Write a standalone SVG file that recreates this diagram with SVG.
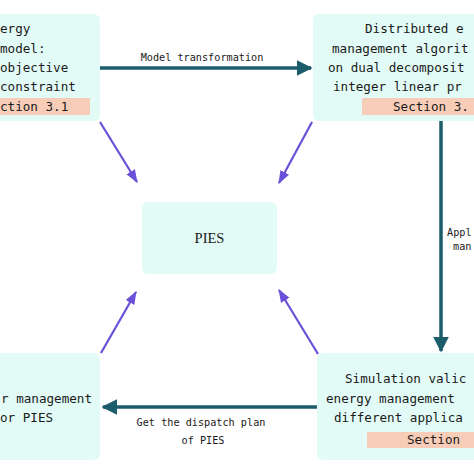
<svg xmlns="http://www.w3.org/2000/svg" width="474" height="474" viewBox="0 0 474 474">
<defs>
<style>
.box{fill:#e2fbf6;}
.bar{fill:#f8cdb8;}
.t{font-family:"DejaVu Sans Mono","Liberation Mono",monospace;font-size:12.6px;fill:#1a1a1a;}
.l{font-family:"DejaVu Sans Mono","Liberation Mono",monospace;font-size:10.2px;fill:#1a1a1a;}
.main{stroke:#1d5c6b;stroke-width:3.5;fill:none;}
.pur{stroke:#6a4fd8;stroke-width:2.2;fill:none;}
</style>
<marker id="ah" viewBox="0 0 10 10" refX="9" refY="5" markerWidth="4.5" markerHeight="4.5" orient="auto" markerUnits="strokeWidth">
<path d="M0,0 L10,5 L0,10 z" fill="#1d5c6b"/>
</marker>
<marker id="ap" viewBox="0 0 12 10" refX="11" refY="5" markerWidth="6" markerHeight="5" orient="auto" markerUnits="strokeWidth">
<path d="M0,0.5 L12,5 L0,9.5 z" fill="#6a4fd8"/>
</marker>
</defs>
<rect width="474" height="474" fill="#ffffff"/>

<g id="top-left">
<rect class="box" x="-10" y="14" width="110" height="107" rx="6"/>
<rect class="bar" x="-10" y="98" width="100" height="17"/>
<text class="t" x="0" y="33">ergy</text>
<text class="t" x="0" y="53">model:</text>
<text class="t" x="0" y="72">objective</text>
<text class="t" x="0" y="91">constraint</text>
<text class="t" x="0" y="111">ction 3.1</text>
</g>

<g id="top-right">
<rect class="box" x="313" y="14" width="175" height="107" rx="6"/>
<rect class="bar" x="362" y="98" width="120" height="17"/>
<text class="t" x="365" y="33">Distributed e</text>
<text class="t" x="332" y="53">management algorit</text>
<text class="t" x="328" y="72">on dual decomposit</text>
<text class="t" x="333" y="91">integer linear pr</text>
<text class="t" x="393" y="111">Section 3.</text>
</g>

<g id="pies">
<rect class="box" x="142" y="202" width="135" height="72" rx="6"/>
<text x="209.5" y="243" text-anchor="middle" font-family="Liberation Serif,serif" font-size="14.5" fill="#1a1a1a">PIES</text>
</g>

<g id="bottom-left">
<rect class="box" x="-10" y="353" width="110" height="107" rx="6"/>
<text class="t" x="92" y="403" text-anchor="end">r management</text>
<text class="t" x="0" y="422">or PIES</text>
</g>

<g id="bottom-right">
<rect class="box" x="317" y="353" width="175" height="107" rx="6"/>
<rect class="bar" x="367" y="432" width="115" height="16"/>
<text class="t" x="345" y="383">Simulation valic</text>
<text class="t" x="326" y="403">energy management</text>
<text class="t" x="334" y="422">different applica</text>
<text class="t" x="407" y="444">Section</text>
</g>

<g id="connectors">
<line class="main" x1="100" y1="68" x2="311" y2="68" marker-end="url(#ah)"/>
<line class="main" x1="441" y1="121" x2="441" y2="351" marker-end="url(#ah)"/>
<line class="main" x1="317" y1="407" x2="103" y2="407" marker-end="url(#ah)"/>
<line class="pur" x1="100" y1="122" x2="137" y2="182" marker-end="url(#ap)"/>
<line class="pur" x1="312" y1="122" x2="279" y2="183" marker-end="url(#ap)"/>
<line class="pur" x1="101" y1="353" x2="136" y2="292" marker-end="url(#ap)"/>
<line class="pur" x1="318" y1="354" x2="279" y2="290" marker-end="url(#ap)"/>
<text class="l" x="202" y="61" text-anchor="middle">Model transformation</text>
<text class="l" x="447" y="236">Appl</text>
<text class="l" x="453" y="250">man</text>
<text class="l" x="201" y="426" text-anchor="middle">Get the dispatch plan</text>
<text class="l" x="203" y="444" text-anchor="middle">of PIES</text>
</g>
</svg>
